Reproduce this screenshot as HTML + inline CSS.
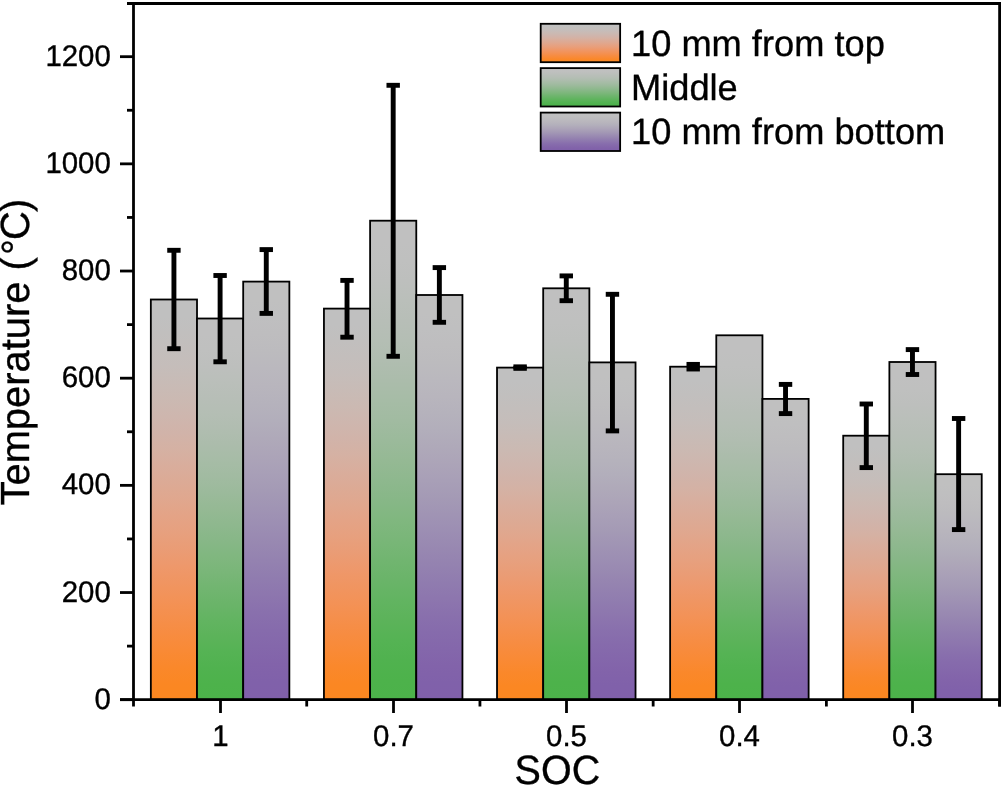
<!DOCTYPE html>
<html><head><meta charset="utf-8"><title>Temperature vs SOC</title>
<style>
html,body{margin:0;padding:0;background:#fff;}
svg{display:block;}
text{font-family:"Liberation Sans",Arial,Helvetica,sans-serif;fill:#000;text-rendering:geometricPrecision;}
</style></head><body>
<svg width="1003" height="785" viewBox="0 0 1003 785">
<defs>
<linearGradient id="g0" x1="0" y1="0" x2="0" y2="1"><stop offset="0.0000" stop-color="#C0C0C0"/><stop offset="0.0417" stop-color="#C0C0C0"/><stop offset="0.0833" stop-color="#C1BFBE"/><stop offset="0.1250" stop-color="#C3BEBC"/><stop offset="0.1667" stop-color="#C5BDBA"/><stop offset="0.2083" stop-color="#C8BBB6"/><stop offset="0.2500" stop-color="#CBB9B2"/><stop offset="0.2917" stop-color="#CEB6AE"/><stop offset="0.3333" stop-color="#D1B3A9"/><stop offset="0.3750" stop-color="#D5B1A3"/><stop offset="0.4167" stop-color="#D9AD9C"/><stop offset="0.4583" stop-color="#DCAA95"/><stop offset="0.5000" stop-color="#E0A78E"/><stop offset="0.5417" stop-color="#E4A386"/><stop offset="0.5833" stop-color="#E7A07E"/><stop offset="0.6250" stop-color="#EA9C75"/><stop offset="0.6667" stop-color="#EE986B"/><stop offset="0.7083" stop-color="#F09561"/><stop offset="0.7500" stop-color="#F39257"/><stop offset="0.7917" stop-color="#F58F4C"/><stop offset="0.8333" stop-color="#F78C41"/><stop offset="0.8750" stop-color="#F98A36"/><stop offset="0.9167" stop-color="#FA882B"/><stop offset="0.9583" stop-color="#FB8723"/><stop offset="1.0000" stop-color="#FB8720"/></linearGradient>
<linearGradient id="g1" x1="0" y1="0" x2="0" y2="1"><stop offset="0.0000" stop-color="#C0C0C0"/><stop offset="0.0417" stop-color="#C0C0C0"/><stop offset="0.0833" stop-color="#BFC0BF"/><stop offset="0.1250" stop-color="#BDBFBD"/><stop offset="0.1667" stop-color="#BABFBA"/><stop offset="0.2083" stop-color="#B7BEB7"/><stop offset="0.2500" stop-color="#B4BEB4"/><stop offset="0.2917" stop-color="#B0BDB0"/><stop offset="0.3333" stop-color="#ABBCAB"/><stop offset="0.3750" stop-color="#A6BCA6"/><stop offset="0.4167" stop-color="#A1BBA1"/><stop offset="0.4583" stop-color="#9BBA9B"/><stop offset="0.5000" stop-color="#95B994"/><stop offset="0.5417" stop-color="#8EB88E"/><stop offset="0.5833" stop-color="#87B787"/><stop offset="0.6250" stop-color="#80B77F"/><stop offset="0.6667" stop-color="#79B678"/><stop offset="0.7083" stop-color="#71B570"/><stop offset="0.7500" stop-color="#6AB469"/><stop offset="0.7917" stop-color="#62B461"/><stop offset="0.8333" stop-color="#5CB35A"/><stop offset="0.8750" stop-color="#55B354"/><stop offset="0.9167" stop-color="#50B24F"/><stop offset="0.9583" stop-color="#4DB24B"/><stop offset="1.0000" stop-color="#4CB24A"/></linearGradient>
<linearGradient id="g2" x1="0" y1="0" x2="0" y2="1"><stop offset="0.0000" stop-color="#C0C0C0"/><stop offset="0.0417" stop-color="#C0C0C0"/><stop offset="0.0833" stop-color="#BFBFC0"/><stop offset="0.1250" stop-color="#BEBDBF"/><stop offset="0.1667" stop-color="#BCBBBE"/><stop offset="0.2083" stop-color="#BAB8BE"/><stop offset="0.2500" stop-color="#B8B5BD"/><stop offset="0.2917" stop-color="#B5B2BC"/><stop offset="0.3333" stop-color="#B2AEBB"/><stop offset="0.3750" stop-color="#AFA9B9"/><stop offset="0.4167" stop-color="#ACA4B8"/><stop offset="0.4583" stop-color="#A89FB7"/><stop offset="0.5000" stop-color="#A49AB5"/><stop offset="0.5417" stop-color="#A094B4"/><stop offset="0.5833" stop-color="#9C8EB3"/><stop offset="0.6250" stop-color="#9888B1"/><stop offset="0.6667" stop-color="#9482B0"/><stop offset="0.7083" stop-color="#907CAF"/><stop offset="0.7500" stop-color="#8D76AE"/><stop offset="0.7917" stop-color="#8970AD"/><stop offset="0.8333" stop-color="#866BAC"/><stop offset="0.8750" stop-color="#8467AB"/><stop offset="0.9167" stop-color="#8263AA"/><stop offset="0.9583" stop-color="#8061AA"/><stop offset="1.0000" stop-color="#8060AA"/></linearGradient>
</defs>
<rect x="0" y="0" width="1003" height="785" fill="#fff"/>
<g stroke="#000" stroke-width="1.80">
<rect x="150.84" y="299.50" width="46.17" height="400.20" fill="url(#g0)"/>
<rect x="197.01" y="318.50" width="46.17" height="381.20" fill="url(#g1)"/>
<rect x="243.19" y="281.60" width="46.17" height="418.10" fill="url(#g2)"/>
<rect x="323.94" y="308.60" width="46.17" height="391.10" fill="url(#g0)"/>
<rect x="370.11" y="220.70" width="46.17" height="479.00" fill="url(#g1)"/>
<rect x="416.27" y="295.00" width="46.17" height="404.70" fill="url(#g2)"/>
<rect x="497.02" y="367.60" width="46.17" height="332.10" fill="url(#g0)"/>
<rect x="543.19" y="288.30" width="46.17" height="411.40" fill="url(#g1)"/>
<rect x="589.37" y="362.40" width="46.17" height="337.30" fill="url(#g2)"/>
<rect x="670.12" y="366.70" width="46.17" height="333.00" fill="url(#g0)"/>
<rect x="716.28" y="335.30" width="46.17" height="364.40" fill="url(#g1)"/>
<rect x="762.46" y="398.90" width="46.17" height="300.80" fill="url(#g2)"/>
<rect x="843.21" y="435.70" width="46.17" height="264.00" fill="url(#g0)"/>
<rect x="889.38" y="362.00" width="46.17" height="337.70" fill="url(#g1)"/>
<rect x="935.55" y="474.20" width="46.17" height="225.50" fill="url(#g2)"/>
</g>
<g fill="#000">
<rect x="171.48" y="250.30" width="4.90" height="98.40"/>
<rect x="167.23" y="247.85" width="13.40" height="4.90"/>
<rect x="167.23" y="346.25" width="13.40" height="4.90"/>
<rect x="217.65" y="275.50" width="4.90" height="86.30"/>
<rect x="213.40" y="273.05" width="13.40" height="4.90"/>
<rect x="213.40" y="359.35" width="13.40" height="4.90"/>
<rect x="263.82" y="249.60" width="4.90" height="63.80"/>
<rect x="259.57" y="247.15" width="13.40" height="4.90"/>
<rect x="259.57" y="310.95" width="13.40" height="4.90"/>
<rect x="344.57" y="280.40" width="4.90" height="56.80"/>
<rect x="340.32" y="277.95" width="13.40" height="4.90"/>
<rect x="340.32" y="334.75" width="13.40" height="4.90"/>
<rect x="390.74" y="85.30" width="4.90" height="271.00"/>
<rect x="386.49" y="82.85" width="13.40" height="4.90"/>
<rect x="386.49" y="353.85" width="13.40" height="4.90"/>
<rect x="436.91" y="267.60" width="4.90" height="54.70"/>
<rect x="432.66" y="265.15" width="13.40" height="4.90"/>
<rect x="432.66" y="319.85" width="13.40" height="4.90"/>
<rect x="517.66" y="366.85" width="4.90" height="1.50"/>
<rect x="513.41" y="364.40" width="13.40" height="4.90"/>
<rect x="513.41" y="365.90" width="13.40" height="4.90"/>
<rect x="563.83" y="275.90" width="4.90" height="24.80"/>
<rect x="559.58" y="273.45" width="13.40" height="4.90"/>
<rect x="559.58" y="298.25" width="13.40" height="4.90"/>
<rect x="610.00" y="294.30" width="4.90" height="136.60"/>
<rect x="605.75" y="291.85" width="13.40" height="4.90"/>
<rect x="605.75" y="428.45" width="13.40" height="4.90"/>
<rect x="690.75" y="364.40" width="4.90" height="4.60"/>
<rect x="686.50" y="361.95" width="13.40" height="4.90"/>
<rect x="686.50" y="366.55" width="13.40" height="4.90"/>
<rect x="783.09" y="384.40" width="4.90" height="29.20"/>
<rect x="778.84" y="381.95" width="13.40" height="4.90"/>
<rect x="778.84" y="411.15" width="13.40" height="4.90"/>
<rect x="863.84" y="404.00" width="4.90" height="63.60"/>
<rect x="859.59" y="401.55" width="13.40" height="4.90"/>
<rect x="859.59" y="465.15" width="13.40" height="4.90"/>
<rect x="910.01" y="349.60" width="4.90" height="24.90"/>
<rect x="905.76" y="347.15" width="13.40" height="4.90"/>
<rect x="905.76" y="372.05" width="13.40" height="4.90"/>
<rect x="956.18" y="418.50" width="4.90" height="111.10"/>
<rect x="951.93" y="416.05" width="13.40" height="4.90"/>
<rect x="951.93" y="527.15" width="13.40" height="4.90"/>
</g>
<g stroke="#000" stroke-width="2.8" fill="none" stroke-linecap="butt">
<path d="M133.50,2.10 V699.70" />
<path d="M120,699.70 H1001.00" />
<path d="M127,3.5 H1001.00" />
<path d="M999.60,2.10 V706.5" />
<path d="M120,699.70 H133.50" />
<path d="M127,646.12 H133.50" />
<path d="M120,592.53 H133.50" />
<path d="M127,538.95 H133.50" />
<path d="M120,485.36 H133.50" />
<path d="M127,431.78 H133.50" />
<path d="M120,378.19 H133.50" />
<path d="M127,324.61 H133.50" />
<path d="M120,271.02 H133.50" />
<path d="M127,217.44 H133.50" />
<path d="M120,163.85 H133.50" />
<path d="M127,110.26 H133.50" />
<path d="M120,56.68 H133.50" />
<path d="M133.50,699.70 V706.5" />
<path d="M306.72,699.70 V706.5" />
<path d="M479.94,699.70 V706.5" />
<path d="M653.16,699.70 V706.5" />
<path d="M826.38,699.70 V706.5" />
<path d="M999.60,699.70 V706.5" />
<path d="M220.50,699.70 V713.0" />
<path d="M393.50,699.70 V713.0" />
<path d="M566.50,699.70 V713.0" />
<path d="M739.50,699.70 V713.0" />
<path d="M912.50,699.70 V713.0" />
</g>
<g font-size="29.4" text-anchor="end" stroke="#000" stroke-width="0.35">
<text transform="translate(110.8 708.70) scale(1 1.015)">0</text>
<text transform="translate(110.8 601.53) scale(1 1.015)">200</text>
<text transform="translate(110.8 494.36) scale(1 1.015)">400</text>
<text transform="translate(110.8 387.19) scale(1 1.015)">600</text>
<text transform="translate(110.8 280.02) scale(1 1.015)">800</text>
<text transform="translate(110.8 172.85) scale(1 1.015)">1000</text>
<text transform="translate(110.8 65.68) scale(1 1.015)">1200</text>
</g>
<g font-size="29.4" text-anchor="middle" stroke="#000" stroke-width="0.35">
<text transform="translate(220.50 745.7) scale(1 1.015)">1</text>
<text transform="translate(393.50 745.7) scale(1 1.015)">0.7</text>
<text transform="translate(566.50 745.7) scale(1 1.015)">0.5</text>
<text transform="translate(739.50 745.7) scale(1 1.015)">0.4</text>
<text transform="translate(912.50 745.7) scale(1 1.015)">0.3</text>
</g>
<text transform="translate(514.6 783.8) scale(1 1.035)" font-size="39.5" stroke="#000" stroke-width="0.35">SOC</text>
<text transform="translate(29 505.5) rotate(-90) scale(1 1.02)" font-size="39.9" stroke="#000" stroke-width="0.35">Temperature (<tspan dx="2.3" dy="1.4">°</tspan><tspan dx="-1.0" dy="-1.4">C</tspan><tspan dx="-0.8">)</tspan></text>
<g stroke="#000" stroke-width="1.8">
<rect x="540.7" y="23.8" width="79.45" height="38.4" fill="url(#g0)"/>
<rect x="540.7" y="68.1" width="79.45" height="38.4" fill="url(#g1)"/>
<rect x="540.7" y="112.6" width="79.45" height="38.4" fill="url(#g2)"/>
</g>
<g font-size="36.25" stroke="#000" stroke-width="0.35">
<text transform="translate(631 55.9) scale(1 1.01)">10 mm from top</text>
<text transform="translate(631 99.9) scale(1 1.01)">Middle</text>
<text transform="translate(631 143.9) scale(1 1.01)">10 mm from bottom</text>
</g>
</svg>
</body></html>
